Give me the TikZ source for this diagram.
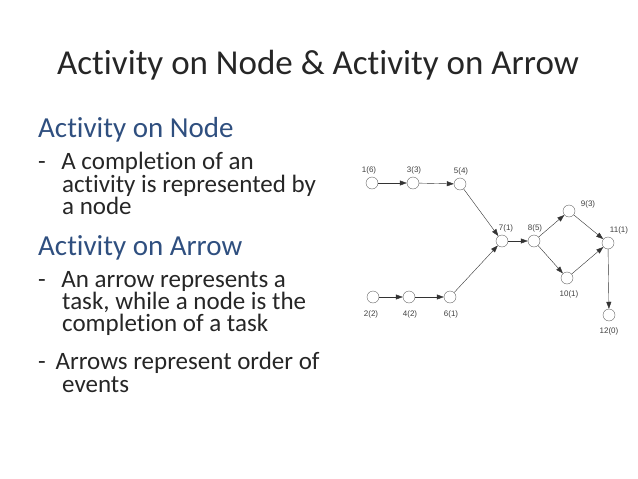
\documentclass[tikz,border=0pt]{standalone}
\usepackage{fontspec}
\setmainfont[Ligatures=NoCommon]{Carlito}
\newfontfamily\lab{Liberation Sans}
\usetikzlibrary{arrows.meta}
\definecolor{ttl}{HTML}{262626}
\definecolor{hd}{HTML}{2F4F7F}
\begin{document}
\begin{tikzpicture}[x=1pt,y=-1pt,
 t/.style={anchor=base west,inner sep=0,font=\fontsize{25}{26}\selectfont,text=ttl},
 h/.style={anchor=base west,inner sep=0,font=\fontsize{29}{30}\selectfont,text=hd},
 v/.style={circle,draw=black!60,fill=white,minimum size=12,inner sep=0},
 l/.style={font=\lab\fontsize{8}{9}\selectfont,text=black!75,inner sep=1},
 a/.style={-{Triangle[length=7,width=5]},black!80,thin}]
\useasboundingbox (0,0) rectangle (638,479);
\node[anchor=base,inner sep=0,font=\fontsize{35}{36}\selectfont,text=ttl] (title) at (318,74) {Activity on Node \& Activity on Arrow};
\node[h] (h1) at (38,137) {Activity on Node};
\node[t] (a1) at (38,169) {-\ \ \,A completion of an};
\node[t] (a2) at (62,192) {activity is represented by};
\node[t] (a3) at (62,214) {a node};
\node[h] (h2) at (38,255) {Activity on Arrow};
\node[t] (b1) at (38,287) {-\ \ \,An arrow represents a};
\node[t] (b2) at (62,309) {task, while a node is the};
\node[t] (b3) at (62,331) {completion of a task};
\node[t] (c1) at (38,369) {-\ \,Arrows represent order of};
\node[t] (c2) at (62,392) {events};
\node[v] (n1) at (372,183) {};
\node[v] (n3) at (413,183) {};
\node[v] (n5) at (460,184) {};
\node[v] (n7) at (502,241) {};
\node[v] (n8) at (534,241) {};
\node[v] (n9) at (569,211) {};
\node[v] (n11) at (608,243) {};
\node[v] (n10) at (567,278) {};
\node[v] (n12) at (609,315) {};
\node[v] (n2) at (373,297) {};
\node[v] (n4) at (409,297) {};
\node[v] (n6) at (450,297) {};
\node[l] (l1) at (369,170) {1(6)};
\node[l] (l3) at (414,170) {3(3)};
\node[l] (l5) at (461,171) {5(4)};
\node[l] (l7) at (506,228) {7(1)};
\node[l] (l8) at (535,228) {8(5)};
\node[l] (l9) at (588,204) {9(3)};
\node[l] (l11) at (619,230) {11(1)};
\node[l] (l10) at (569,294) {10(1)};
\node[l] (l12) at (609,331) {12(0)};
\node[l] (l2) at (371,314) {2(2)};
\node[l] (l4) at (410,314) {4(2)};
\node[l] (l6) at (451,314) {6(1)};
\draw[a] (n1) -- (n3);
\draw[a] (n3) -- (n5);
\draw[a] (n5) -- (n7);
\draw[a] (n2) -- (n4);
\draw[a] (n4) -- (n6);
\draw[a] (n6) -- (n7);
\draw[a] (n7) -- (n8);
\draw[a] (n8) -- (n9);
\draw[a] (n8) -- (n10);
\draw[a] (n9) -- (n11);
\draw[a] (n10) -- (n11);
\draw[a] (n11) -- (n12);
\end{tikzpicture}
\end{document}
